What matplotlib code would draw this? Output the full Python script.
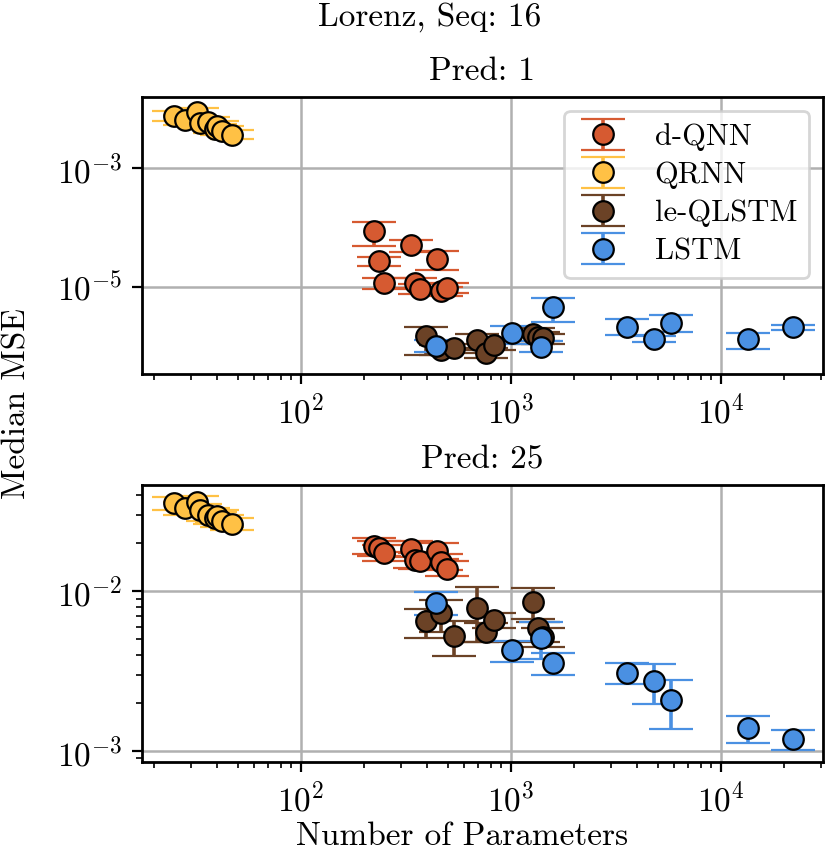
import matplotlib
matplotlib.use("Agg")
import matplotlib.pyplot as plt
from matplotlib.ticker import LogLocator, NullLocator, FixedLocator, NullFormatter

plt.rcParams['font.family'] = ['cmr10', 'DejaVu Serif']
plt.rcParams['mathtext.fontset'] = 'cm'
plt.rcParams['axes.formatter.use_mathtext'] = True
plt.rcParams['font.size'] = 12
plt.rcParams['axes.unicode_minus'] = True

models = ["d-QNN", "QRNN", "le-QLSTM", "LSTM"]
colors = {"d-QNN": "#D65A31", "QRNN": "#FFC145", "le-QLSTM": "#6B4226", "LSTM": "#4A90E2"}

# Number of parameters
x_dqnn = [223, 236, 248, 334, 350, 370, 444, 464, 496]
x_qrnn = [25, 28, 32, 33, 36, 39, 40, 42, 47]
x_leqlstm = [393, 464, 535, 687, 760, 830, 1277, 1349, 1425]
x_lstm = [439, 1014, 1389, 1589, 3556, 4807, 5753, 13400, 21900]

# Pred: 1 (median, lower, upper)
p1_dqnn = [8.7e-5, 2.7e-5, 1.17e-5, 5.0e-5, 1.17e-5, 9.0e-6, 2.9e-5, 8.5e-6, 9.6e-6]
p1_dqnn_lo = [4.9e-5, 2.2e-5, 9.1e-6, 3.9e-5, 9.5e-6, 7.5e-6, 1.9e-5, 7.0e-6, 7.8e-6]
p1_dqnn_hi = [1.24e-4, 3.2e-5, 1.4e-5, 6.1e-5, 1.4e-5, 1.1e-5, 4.0e-5, 1.0e-5, 1.15e-5]

p1_qrnn = [7.5e-3, 6.3e-3, 8.5e-3, 5.6e-3, 5.9e-3, 4.5e-3, 5.1e-3, 4.2e-3, 3.6e-3]
p1_qrnn_lo = [6.2e-3, 5.3e-3, 7.0e-3, 4.7e-3, 4.9e-3, 3.8e-3, 4.3e-3, 3.5e-3, 3.0e-3]
p1_qrnn_hi = [9.0e-3, 7.6e-3, 1.0e-2, 6.8e-3, 7.1e-3, 5.4e-3, 6.2e-3, 5.1e-3, 4.3e-3]

p1_leqlstm = [1.48e-6, 8.6e-7, 9.2e-7, 1.27e-6, 7.6e-7, 1.05e-6, 1.60e-6, 1.44e-6, 1.36e-6]
p1_leqlstm_lo = [7.1e-7, 7.0e-7, 7.6e-7, 8.5e-7, 6.3e-7, 8.7e-7, 1.1e-6, 1.2e-6, 1.1e-6]
p1_leqlstm_hi = [2.08e-6, 1.05e-6, 1.1e-6, 1.6e-6, 9.2e-7, 1.25e-6, 2.0e-6, 1.7e-6, 1.6e-6]

p1_lstm = [1.0e-6, 1.69e-6, 9.8e-7, 4.5e-6, 2.13e-6, 1.31e-6, 2.48e-6, 1.31e-6, 2.13e-6]
p1_lstm_lo = [8.1e-7, 1.08e-6, 8.1e-7, 2.58e-6, 1.55e-6, 1.16e-6, 1.72e-6, 8.9e-7, 1.9e-6]
p1_lstm_hi = [1.27e-6, 2.2e-6, 1.2e-6, 6.4e-6, 2.84e-6, 1.48e-6, 3.4e-6, 1.69e-6, 2.3e-6]

# Pred: 25
p25_dqnn = [0.0193, 0.0186, 0.0175, 0.0184, 0.0157, 0.0155, 0.0179, 0.0153, 0.0139]
p25_dqnn_lo = [0.0172, 0.0166, 0.0156, 0.0164, 0.0140, 0.0138, 0.0160, 0.0137, 0.0124]
p25_dqnn_hi = [0.0216, 0.0208, 0.0196, 0.0206, 0.0176, 0.0174, 0.0200, 0.0171, 0.0156]

p25_qrnn = [0.0356, 0.0331, 0.0364, 0.0323, 0.0303, 0.0289, 0.0296, 0.0277, 0.0264]
p25_qrnn_lo = [0.0325, 0.0302, 0.0333, 0.0295, 0.0277, 0.0264, 0.0271, 0.0253, 0.0241]
p25_qrnn_hi = [0.0390, 0.0362, 0.0398, 0.0353, 0.0331, 0.0316, 0.0324, 0.0303, 0.0289]

p25_leqlstm = [6.52e-3, 7.28e-3, 5.27e-3, 7.83e-3, 5.54e-3, 6.61e-3, 8.61e-3, 5.87e-3, 5.2e-3]
p25_leqlstm_lo = [5.12e-3, 5.58e-3, 3.95e-3, 4.83e-3, 4.8e-3, 5.9e-3, 6.68e-3, 4.8e-3, 4.5e-3]
p25_leqlstm_hi = [7.75e-3, 8.8e-3, 6.5e-3, 1.07e-2, 6.3e-3, 7.3e-3, 1.05e-2, 6.4e-3, 5.9e-3]

p25_lstm = [8.49e-3, 4.29e-3, 5.12e-3, 3.54e-3, 3.07e-3, 2.76e-3, 2.08e-3, 1.40e-3, 1.19e-3]
p25_lstm_lo = [7.1e-3, 3.62e-3, 3.77e-3, 2.99e-3, 2.62e-3, 1.96e-3, 1.37e-3, 1.12e-3, 1.01e-3]
p25_lstm_hi = [9.9e-3, 4.9e-3, 6.4e-3, 4.09e-3, 3.54e-3, 3.5e-3, 2.78e-3, 1.66e-3, 1.35e-3]

xs = {"d-QNN": x_dqnn, "QRNN": x_qrnn, "le-QLSTM": x_leqlstm, "LSTM": x_lstm}
pred1 = {"d-QNN": (p1_dqnn, p1_dqnn_lo, p1_dqnn_hi),
         "QRNN": (p1_qrnn, p1_qrnn_lo, p1_qrnn_hi),
         "le-QLSTM": (p1_leqlstm, p1_leqlstm_lo, p1_leqlstm_hi),
         "LSTM": (p1_lstm, p1_lstm_lo, p1_lstm_hi)}
pred25 = {"d-QNN": (p25_dqnn, p25_dqnn_lo, p25_dqnn_hi),
          "QRNN": (p25_qrnn, p25_qrnn_lo, p25_qrnn_hi),
          "le-QLSTM": (p25_leqlstm, p25_leqlstm_lo, p25_leqlstm_hi),
          "LSTM": (p25_lstm, p25_lstm_lo, p25_lstm_hi)}

fig = plt.figure(figsize=(4.125, 4.255), dpi=200)
ax1 = fig.add_axes([0.172, 0.5605, 0.8256, 0.3255])
ax2 = fig.add_axes([0.172, 0.1046, 0.8256, 0.3255])

def draw(ax, data):
    for m in models:
        y, lo, hi = data[m]
        yerr = [[yi - l for yi, l in zip(y, lo)], [h - yi for yi, h in zip(y, hi)]]
        ax.errorbar(xs[m], y, yerr=yerr, fmt='o', color=colors[m],
                    markerfacecolor=colors[m], markeredgecolor='black',
                    markeredgewidth=0.8, markersize=7.4, ecolor=colors[m],
                    elinewidth=1.3, capsize=8, capthick=0.7, label=m)
    ax.set_xscale('log')
    ax.set_yscale('log')
    ax.set_xlim(17.5, 30600)
    ax.grid(True, which='major', color='#b0b0b0', linewidth=0.9)
    ax.set_axisbelow(True)
    ax.tick_params(axis='x', which='major', pad=3.5)
    for s in ax.spines.values():
        s.set_linewidth(1.0)

draw(ax1, pred1)
ax1.set_ylim(3.41e-7, 0.0154)
ax1.yaxis.set_major_locator(FixedLocator([1e-5, 1e-3]))
ax1.yaxis.set_minor_locator(NullLocator())
ax1.set_title("Pred: 1", fontsize=12, pad=6)
ax1.legend(loc='upper right', fontsize=11, framealpha=0.8,
           borderaxespad=0.45, handletextpad=0.8, handlelength=1.75,
           labelspacing=0.35)

draw(ax2, pred25)
ax2.set_ylim(8.53e-4, 0.0464)
ax2.yaxis.set_major_locator(FixedLocator([1e-3, 1e-2]))
ax2.yaxis.set_minor_locator(LogLocator(base=10, subs=range(2, 10)))
ax2.yaxis.set_minor_formatter(NullFormatter())
ax2.set_title("Pred: 25", fontsize=12, pad=6)

fig.suptitle("Lorenz, Seq: 16", fontsize=12, x=0.521, y=0.997)
fig.text(0.5597, 0.0065, "Number of Parameters", ha='center', va='baseline', fontsize=12)
fig.text(0.003, 0.526, "Median MSE", rotation=90, ha='left', va='center', fontsize=12)

fig.savefig("out.png", dpi=200)
